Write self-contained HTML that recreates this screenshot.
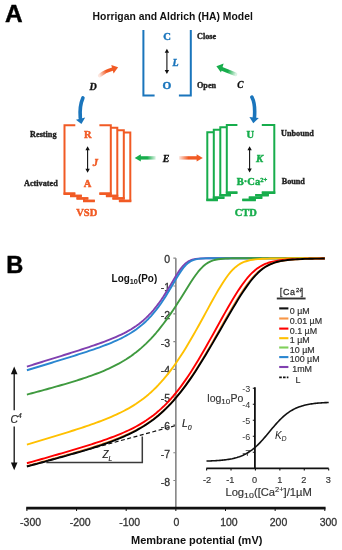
<!DOCTYPE html>
<html><head><meta charset="utf-8"><title>HA model</title>
<style>html,body{margin:0;padding:0;background:#fff;width:342px;height:550px;overflow:hidden}svg{display:block}</style>
</head><body>
<svg width="342" height="550" viewBox="0 0 342 550">
<style>.s{font-family:"Liberation Sans",Arial,sans-serif}.r{font-family:"Liberation Serif","Times New Roman",serif}</style>
<defs><linearGradient id="gD" gradientUnits="userSpaceOnUse" x1="99.4" y1="75.5" x2="118" y2="67"><stop offset="0" stop-color="#f15a24" stop-opacity="0.15"/><stop offset="0.4" stop-color="#f15a24" stop-opacity="1"/></linearGradient><linearGradient id="gC" gradientUnits="userSpaceOnUse" x1="235.7" y1="74.3" x2="216.4" y2="66.3"><stop offset="0" stop-color="#17ad4c" stop-opacity="0.15"/><stop offset="0.4" stop-color="#17ad4c" stop-opacity="1"/></linearGradient><linearGradient id="gEg" gradientUnits="userSpaceOnUse" x1="155.7" y1="157.9" x2="134.7" y2="157.9"><stop offset="0" stop-color="#17ad4c" stop-opacity="0.15"/><stop offset="0.4" stop-color="#17ad4c" stop-opacity="1"/></linearGradient><linearGradient id="gEo" gradientUnits="userSpaceOnUse" x1="179.1" y1="157.9" x2="202.5" y2="157.9"><stop offset="0" stop-color="#f15a24" stop-opacity="0.15"/><stop offset="0.4" stop-color="#f15a24" stop-opacity="1"/></linearGradient></defs>
<rect width="342" height="550" fill="#fff"/>
<text x="4.9" y="21.8" class="s" font-weight="bold" font-size="24.4" stroke="#000" stroke-width="0.45">A</text>
<text x="92.6" y="19.6" class="s" font-weight="bold" font-size="10.5" fill="#111" textLength="160.2" lengthAdjust="spacingAndGlyphs">Horrigan and Aldrich (HA) Model</text>
<rect x="84.00" y="132.56" width="46.30" height="68.10" fill="#fff"/>
<path d="M94.80,132.56 H84.00 V200.66 H94.80 M118.90,132.56 H130.30 V200.66 H118.90" fill="none" stroke="#f15a24" stroke-width="2.0" stroke-linejoin="miter" stroke-linecap="butt"/>
<path d="M83.00,200.91 H94.80 M118.90,200.91 H131.30" fill="none" stroke="#f15a24" stroke-width="2.5"/>
<rect x="77.50" y="130.14" width="46.30" height="68.10" fill="#fff"/>
<path d="M88.30,130.14 H77.50 V198.24 H88.30 M112.40,130.14 H123.80 V198.24 H112.40" fill="none" stroke="#f15a24" stroke-width="2.0" stroke-linejoin="miter" stroke-linecap="butt"/>
<path d="M76.50,198.49 H88.30 M112.40,198.49 H124.80" fill="none" stroke="#f15a24" stroke-width="2.5"/>
<rect x="71.00" y="127.72" width="46.30" height="68.10" fill="#fff"/>
<path d="M81.80,127.72 H71.00 V195.82 H81.80 M105.90,127.72 H117.30 V195.82 H105.90" fill="none" stroke="#f15a24" stroke-width="2.0" stroke-linejoin="miter" stroke-linecap="butt"/>
<path d="M70.00,196.07 H81.80 M105.90,196.07 H118.30" fill="none" stroke="#f15a24" stroke-width="2.5"/>
<rect x="64.50" y="125.30" width="46.30" height="68.10" fill="#fff"/>
<path d="M75.30,125.30 H64.50 V193.40 H75.30 M99.40,125.30 H110.80 V193.40 H99.40" fill="none" stroke="#f15a24" stroke-width="2.0" stroke-linejoin="miter" stroke-linecap="butt"/>
<path d="M63.50,193.65 H75.30 M99.40,193.65 H111.80" fill="none" stroke="#f15a24" stroke-width="2.5"/>
<rect x="207.30" y="132.16" width="47.50" height="67.70" fill="#fff"/>
<path d="M217.90,132.16 H207.30 V199.86 H217.90 M242.30,132.16 H254.80 V199.86 H242.30" fill="none" stroke="#17ad4c" stroke-width="2.0" stroke-linejoin="miter" stroke-linecap="butt"/>
<path d="M206.30,200.11 H217.90 M242.30,200.11 H255.80" fill="none" stroke="#17ad4c" stroke-width="2.5"/>
<rect x="213.80" y="129.74" width="47.50" height="67.70" fill="#fff"/>
<path d="M224.40,129.74 H213.80 V197.44 H224.40 M248.80,129.74 H261.30 V197.44 H248.80" fill="none" stroke="#17ad4c" stroke-width="2.0" stroke-linejoin="miter" stroke-linecap="butt"/>
<path d="M212.80,197.69 H224.40 M248.80,197.69 H262.30" fill="none" stroke="#17ad4c" stroke-width="2.5"/>
<rect x="220.30" y="127.32" width="47.50" height="67.70" fill="#fff"/>
<path d="M230.90,127.32 H220.30 V195.02 H230.90 M255.30,127.32 H267.80 V195.02 H255.30" fill="none" stroke="#17ad4c" stroke-width="2.0" stroke-linejoin="miter" stroke-linecap="butt"/>
<path d="M219.30,195.27 H230.90 M255.30,195.27 H268.80" fill="none" stroke="#17ad4c" stroke-width="2.5"/>
<rect x="226.80" y="124.90" width="47.50" height="67.70" fill="#fff"/>
<path d="M237.40,124.90 H226.80 V192.60 H237.40 M261.80,124.90 H274.30 V192.60 H261.80" fill="none" stroke="#17ad4c" stroke-width="2.0" stroke-linejoin="miter" stroke-linecap="butt"/>
<path d="M225.80,192.85 H237.40 M261.80,192.85 H275.30" fill="none" stroke="#17ad4c" stroke-width="2.5"/>
<path d="M154.6,95.5 H143.4 V30 M178.9,95.5 H190.8 V30" fill="none" stroke="#1a75bc" stroke-width="2"/>
<text x="167.1" y="40.2" text-anchor="middle" class="r" font-weight="bold" font-size="10.6" fill="#1a75bc" stroke="#1a75bc" stroke-width="0.45">C</text>
<text x="166.9" y="89.2" text-anchor="middle" class="r" font-weight="bold" font-size="11.3" fill="#1a75bc" stroke="#1a75bc" stroke-width="0.45">O</text>
<text x="172.5" y="65.5" class="r" font-weight="bold" font-style="italic" font-size="10" fill="#1a75bc" stroke="#1a75bc" stroke-width="0.45">L</text>
<text x="197" y="38.7" class="r" font-weight="bold" font-size="8.2" fill="#222" stroke="#222" stroke-width="0.35">Close</text>
<text x="197" y="87.8" class="r" font-weight="bold" font-size="8.2" fill="#222" stroke="#222" stroke-width="0.35">Open</text>
<path d="M166.9,52.2 V70.6" stroke="#111" stroke-width="1.1"/><path d="M166.9,48.7 L164.70000000000002,52.7 L169.1,52.7 Z M166.9,74.1 L164.70000000000002,70.1 L169.1,70.1 Z" fill="#111"/>
<path d="M87.6,149.7 V169.3" stroke="#111" stroke-width="1.1"/><path d="M87.6,146.2 L85.39999999999999,150.2 L89.8,150.2 Z M87.6,172.8 L85.39999999999999,168.8 L89.8,168.8 Z" fill="#111"/>
<path d="M249.6,149.8 V169.1" stroke="#111" stroke-width="1.1"/><path d="M249.6,146.3 L247.4,150.3 L251.79999999999998,150.3 Z M249.6,172.6 L247.4,168.6 L251.79999999999998,168.6 Z" fill="#111"/>
<text x="87.7" y="138.1" text-anchor="middle" class="r" font-weight="bold" font-size="10.5" fill="#f15a24" stroke="#f15a24" stroke-width="0.45">R</text>
<text x="87.6" y="187.1" text-anchor="middle" class="r" font-weight="bold" font-size="10.5" fill="#f15a24" stroke="#f15a24" stroke-width="0.45">A</text>
<text x="92.8" y="166" class="r" font-weight="bold" font-style="italic" font-size="10.5" fill="#f15a24" stroke="#f15a24" stroke-width="0.45">J</text>
<text x="86.8" y="215.5" text-anchor="middle" class="r" font-weight="bold" font-size="10.5" fill="#f15a24" stroke="#f15a24" stroke-width="0.45">VSD</text>
<text x="56.5" y="136.7" text-anchor="end" class="r" font-weight="bold" font-size="8.2" fill="#222" stroke="#222" stroke-width="0.35">Resting</text>
<text x="57.7" y="186.3" text-anchor="end" class="r" font-weight="bold" font-size="8.2" fill="#222" stroke="#222" stroke-width="0.35">Activated</text>
<text x="250.2" y="138.3" text-anchor="middle" class="r" font-weight="bold" font-size="10.5" fill="#17ad4c" stroke="#17ad4c" stroke-width="0.45">U</text>
<text x="255.9" y="161.7" class="r" font-weight="bold" font-style="italic" font-size="10.3" fill="#17ad4c" stroke="#17ad4c" stroke-width="0.45" textLength="7.2" lengthAdjust="spacingAndGlyphs">K</text>
<text x="236.8" y="185" class="r" font-weight="bold" font-size="10.5" fill="#17ad4c" stroke="#17ad4c" stroke-width="0.45">B·Ca<tspan font-size="6.5" dy="-3.5">2+</tspan></text>
<text x="245.8" y="215.8" text-anchor="middle" class="r" font-weight="bold" font-size="10.5" fill="#17ad4c" stroke="#17ad4c" stroke-width="0.45">CTD</text>
<text x="281.1" y="136.1" class="r" font-weight="bold" font-size="8.2" fill="#222" stroke="#222" stroke-width="0.35">Unbound</text>
<text x="281.7" y="183.5" class="r" font-weight="bold" font-size="8.2" fill="#222" stroke="#222" stroke-width="0.35">Bound</text>
<text x="89.4" y="90" class="r" font-weight="bold" font-style="italic" font-size="10" fill="#111" stroke="#111" stroke-width="0.35">D</text>
<text x="237.3" y="88.3" class="r" font-weight="bold" font-style="italic" font-size="10.3" fill="#111" stroke="#111" stroke-width="0.35" textLength="6.2" lengthAdjust="spacingAndGlyphs">C</text>
<text x="162.8" y="162.4" class="r" font-weight="bold" font-style="italic" font-size="10" fill="#111" stroke="#111" stroke-width="0.35">E</text>
<path d="M99.6,75.6 Q105,71 112.5,69.2" fill="none" stroke="url(#gD)" stroke-width="3.4" stroke-linecap="round"/>
<path d="M118.1,67.3 L111.3,65.0 L113.6,73.4 Z" fill="#f15a24"/>
<path d="M235.4,74.3 L221,68.4" fill="none" stroke="url(#gC)" stroke-width="3.8" stroke-linecap="round"/>
<path d="M216.4,66.3 L223.6,63.6 L221.0,72.6 Z" fill="#17ad4c"/>
<path d="M155.7,157.9 H140" fill="none" stroke="url(#gEg)" stroke-width="3.4"/>
<path d="M134.7,157.9 L140.8,154.2 L140.8,161.6 Z" fill="#17ad4c"/>
<path d="M179.1,157.9 H197" fill="none" stroke="url(#gEo)" stroke-width="3.4"/>
<path d="M202.8,157.9 L196.6,154.2 L196.6,161.6 Z" fill="#f15a24"/>
<path d="M82.9,97.9 Q79.3,106 80.3,118" fill="none" stroke="#1a75bc" stroke-width="3.6" stroke-linecap="round"/>
<path d="M81.4,123.9 L75.9,119.8 L85.2,117.4 Z" fill="#1a75bc"/>
<path d="M251.9,97.2 Q255.6,104 254.4,118" fill="none" stroke="#1a75bc" stroke-width="3.6" stroke-linecap="round"/>
<path d="M253.3,123.2 L249.4,116.9 L258.8,118.0 Z" fill="#1a75bc"/>
<text x="6.2" y="273.2" class="s" font-weight="bold" font-size="23.6" stroke="#000" stroke-width="0.45">B</text>
<path d="M175.85,258.2 V508.4" stroke="#858585" stroke-width="1.6"/>
<path d="M173.35,258.20 H175.85M173.35,285.99 H175.85M173.35,313.78 H175.85M173.35,341.57 H175.85M173.35,369.36 H175.85M173.35,397.15 H175.85M173.35,424.94 H175.85M173.35,452.73 H175.85M173.35,480.52 H175.85" stroke="#858585" stroke-width="1.2"/>
<text x="170.2" y="263.30" text-anchor="end" class="s" font-size="10.5" fill="#333" stroke="#333" stroke-width="0.3">0</text>
<text x="170.2" y="291.09" text-anchor="end" class="s" font-size="10.5" fill="#333" stroke="#333" stroke-width="0.3">-1</text>
<text x="170.2" y="318.88" text-anchor="end" class="s" font-size="10.5" fill="#333" stroke="#333" stroke-width="0.3">-2</text>
<text x="170.2" y="346.67" text-anchor="end" class="s" font-size="10.5" fill="#333" stroke="#333" stroke-width="0.3">-3</text>
<text x="170.2" y="374.46" text-anchor="end" class="s" font-size="10.5" fill="#333" stroke="#333" stroke-width="0.3">-4</text>
<text x="170.2" y="402.25" text-anchor="end" class="s" font-size="10.5" fill="#333" stroke="#333" stroke-width="0.3">-5</text>
<text x="170.2" y="430.04" text-anchor="end" class="s" font-size="10.5" fill="#333" stroke="#333" stroke-width="0.3">-6</text>
<text x="170.2" y="457.83" text-anchor="end" class="s" font-size="10.5" fill="#333" stroke="#333" stroke-width="0.3">-7</text>
<text x="170.2" y="485.62" text-anchor="end" class="s" font-size="10.5" fill="#333" stroke="#333" stroke-width="0.3">-8</text>
<path d="M26.90,366.57 L29.38,365.81 L31.87,365.04 L34.35,364.28 L36.83,363.51 L39.31,362.74 L41.79,361.98 L44.28,361.21 L46.76,360.44 L49.24,359.67 L51.72,358.90 L54.21,358.13 L56.69,357.36 L59.17,356.58 L61.66,355.81 L64.14,355.03 L66.62,354.25 L69.10,353.47 L71.58,352.68 L74.07,351.89 L76.55,351.10 L79.03,350.30 L81.52,349.50 L84.00,348.69 L86.48,347.88 L88.96,347.05 L91.44,346.22 L93.93,345.37 L96.41,344.51 L98.89,343.64 L101.38,342.75 L103.86,341.84 L106.34,340.90 L108.82,339.94 L111.30,338.95 L113.79,337.92 L116.27,336.86 L118.75,335.74 L121.23,334.58 L123.72,333.35 L126.20,332.05 L128.68,330.68 L131.16,329.22 L133.65,327.65 L136.13,325.98 L138.61,324.18 L141.09,322.24 L143.58,320.16 L146.06,317.90 L148.54,315.47 L151.03,312.84 L153.51,310.01 L155.99,306.96 L158.47,303.70 L160.95,300.22 L163.44,296.52 L165.92,292.63 L168.40,288.57 L170.88,284.40 L173.37,280.20 L175.85,276.07 L178.33,272.16 L180.81,268.63 L183.30,265.63 L185.78,263.24 L188.26,261.47 L190.75,260.24 L193.23,259.44 L195.71,258.94 L198.19,258.63 L200.67,258.45 L203.16,258.34 L205.64,258.28 L208.12,258.25 L210.60,258.23 L213.09,258.21 L215.57,258.21 L218.05,258.20 L220.53,258.20 L223.02,258.20 L225.50,258.20 L227.98,258.20 L230.47,258.20 L232.95,258.20 L235.43,258.20 L237.91,258.20 L240.39,258.20 L242.88,258.20 L245.36,258.20 L247.84,258.20 L250.32,258.20 L252.81,258.20 L255.29,258.20 L257.77,258.20 L260.25,258.20 L262.74,258.20 L265.22,258.20 L267.70,258.20 L270.19,258.20 L272.67,258.20 L275.15,258.20 L277.63,258.20 L280.12,258.20 L282.60,258.20 L285.08,258.20 L287.56,258.20 L290.04,258.20 L292.53,258.20 L295.01,258.20 L297.49,258.20 L299.98,258.20 L302.46,258.20 L304.94,258.20 L307.42,258.20 L309.90,258.20 L312.39,258.20 L314.87,258.20 L317.35,258.20 L319.83,258.20 L322.32,258.20 L324.80,258.20" fill="none" stroke="#8040b0" stroke-width="1.9" stroke-linejoin="round"/>
<path d="M26.90,370.28 L29.38,369.52 L31.87,368.77 L34.35,368.02 L36.83,367.26 L39.31,366.51 L41.79,365.75 L44.28,365.00 L46.76,364.24 L49.24,363.48 L51.72,362.72 L54.21,361.96 L56.69,361.20 L59.17,360.43 L61.66,359.67 L64.14,358.90 L66.62,358.13 L69.10,357.35 L71.58,356.57 L74.07,355.79 L76.55,355.01 L79.03,354.21 L81.52,353.41 L84.00,352.61 L86.48,351.79 L88.96,350.97 L91.44,350.13 L93.93,349.28 L96.41,348.42 L98.89,347.54 L101.38,346.64 L103.86,345.71 L106.34,344.76 L108.82,343.79 L111.30,342.77 L113.79,341.72 L116.27,340.63 L118.75,339.49 L121.23,338.29 L123.72,337.02 L126.20,335.69 L128.68,334.27 L131.16,332.76 L133.65,331.15 L136.13,329.43 L138.61,327.59 L141.09,325.61 L143.58,323.48 L146.06,321.18 L148.54,318.71 L151.03,316.06 L153.51,313.21 L155.99,310.16 L158.47,306.90 L160.95,303.44 L163.44,299.76 L165.92,295.90 L168.40,291.87 L170.88,287.71 L173.37,283.48 L175.85,279.26 L178.33,275.17 L180.81,271.36 L183.30,267.97 L185.78,265.13 L188.26,262.90 L190.75,261.26 L193.23,260.13 L195.71,259.39 L198.19,258.91 L200.67,258.62 L203.16,258.45 L205.64,258.35 L208.12,258.29 L210.60,258.25 L213.09,258.23 L215.57,258.22 L218.05,258.21 L220.53,258.21 L223.02,258.20 L225.50,258.20 L227.98,258.20 L230.47,258.20 L232.95,258.20 L235.43,258.20 L237.91,258.20 L240.39,258.20 L242.88,258.20 L245.36,258.20 L247.84,258.20 L250.32,258.20 L252.81,258.20 L255.29,258.20 L257.77,258.20 L260.25,258.20 L262.74,258.20 L265.22,258.20 L267.70,258.20 L270.19,258.20 L272.67,258.20 L275.15,258.20 L277.63,258.20 L280.12,258.20 L282.60,258.20 L285.08,258.20 L287.56,258.20 L290.04,258.20 L292.53,258.20 L295.01,258.20 L297.49,258.20 L299.98,258.20 L302.46,258.20 L304.94,258.20 L307.42,258.20 L309.90,258.20 L312.39,258.20 L314.87,258.20 L317.35,258.20 L319.83,258.20 L322.32,258.20 L324.80,258.20" fill="none" stroke="#2a86d0" stroke-width="1.9" stroke-linejoin="round"/>
<path d="M26.90,394.59 L29.38,393.92 L31.87,393.26 L34.35,392.59 L36.83,391.92 L39.31,391.25 L41.79,390.58 L44.28,389.90 L46.76,389.22 L49.24,388.53 L51.72,387.84 L54.21,387.15 L56.69,386.45 L59.17,385.74 L61.66,385.03 L64.14,384.31 L66.62,383.58 L69.10,382.84 L71.58,382.09 L74.07,381.33 L76.55,380.56 L79.03,379.78 L81.52,378.98 L84.00,378.16 L86.48,377.32 L88.96,376.47 L91.44,375.59 L93.93,374.69 L96.41,373.76 L98.89,372.80 L101.38,371.80 L103.86,370.77 L106.34,369.70 L108.82,368.59 L111.30,367.43 L113.79,366.22 L116.27,364.95 L118.75,363.63 L121.23,362.23 L123.72,360.77 L126.20,359.23 L128.68,357.61 L131.16,355.91 L133.65,354.11 L136.13,352.22 L138.61,350.22 L141.09,348.12 L143.58,345.90 L146.06,343.57 L148.54,341.11 L151.03,338.54 L153.51,335.84 L155.99,333.01 L158.47,330.05 L160.95,326.96 L163.44,323.75 L165.92,320.41 L168.40,316.96 L170.88,313.38 L173.37,309.70 L175.85,305.93 L178.33,302.07 L180.81,298.14 L183.30,294.16 L185.78,290.17 L188.26,286.21 L190.75,282.32 L193.23,278.56 L195.71,275.00 L198.19,271.73 L200.67,268.81 L203.16,266.31 L205.64,264.24 L208.12,262.60 L210.60,261.35 L213.09,260.42 L215.57,259.74 L218.05,259.27 L220.53,258.94 L223.02,258.71 L225.50,258.55 L227.98,258.44 L230.47,258.37 L232.95,258.32 L235.43,258.28 L237.91,258.26 L240.39,258.24 L242.88,258.23 L245.36,258.22 L247.84,258.22 L250.32,258.21 L252.81,258.21 L255.29,258.21 L257.77,258.20 L260.25,258.20 L262.74,258.20 L265.22,258.20 L267.70,258.20 L270.19,258.20 L272.67,258.20 L275.15,258.20 L277.63,258.20 L280.12,258.20 L282.60,258.20 L285.08,258.20 L287.56,258.20 L290.04,258.20 L292.53,258.20 L295.01,258.20 L297.49,258.20 L299.98,258.20 L302.46,258.20 L304.94,258.20 L307.42,258.20 L309.90,258.20 L312.39,258.20 L314.87,258.20 L317.35,258.20 L319.83,258.20 L322.32,258.20 L324.80,258.20" fill="none" stroke="#3f9a3f" stroke-width="1.9" stroke-linejoin="round"/>
<path d="M26.90,444.59 L29.38,443.85 L31.87,443.11 L34.35,442.37 L36.83,441.63 L39.31,440.89 L41.79,440.15 L44.28,439.40 L46.76,438.66 L49.24,437.91 L51.72,437.16 L54.21,436.40 L56.69,435.65 L59.17,434.89 L61.66,434.12 L64.14,433.35 L66.62,432.58 L69.10,431.80 L71.58,431.02 L74.07,430.23 L76.55,429.43 L79.03,428.62 L81.52,427.81 L84.00,426.99 L86.48,426.15 L88.96,425.30 L91.44,424.44 L93.93,423.56 L96.41,422.67 L98.89,421.75 L101.38,420.82 L103.86,419.86 L106.34,418.88 L108.82,417.86 L111.30,416.82 L113.79,415.74 L116.27,414.62 L118.75,413.46 L121.23,412.25 L123.72,410.99 L126.20,409.68 L128.68,408.30 L131.16,406.86 L133.65,405.34 L136.13,403.75 L138.61,402.07 L141.09,400.31 L143.58,398.45 L146.06,396.48 L148.54,394.41 L151.03,392.22 L153.51,389.91 L155.99,387.48 L158.47,384.92 L160.95,382.23 L163.44,379.40 L165.92,376.44 L168.40,373.33 L170.88,370.09 L173.37,366.71 L175.85,363.20 L178.33,359.55 L180.81,355.78 L183.30,351.89 L185.78,347.88 L188.26,343.77 L190.75,339.56 L193.23,335.27 L195.71,330.89 L198.19,326.46 L200.67,321.97 L203.16,317.44 L205.64,312.90 L208.12,308.34 L210.60,303.81 L213.09,299.32 L215.57,294.90 L218.05,290.58 L220.53,286.41 L223.02,282.42 L225.50,278.69 L227.98,275.25 L230.47,272.16 L232.95,269.45 L235.43,267.14 L237.91,265.22 L240.39,263.66 L242.88,262.43 L245.36,261.47 L247.84,260.73 L250.32,260.16 L252.81,259.73 L255.29,259.40 L257.77,259.15 L260.25,258.96 L262.74,258.82 L265.22,258.70 L267.70,258.61 L270.19,258.54 L272.67,258.49 L275.15,258.44 L277.63,258.41 L280.12,258.38 L282.60,258.35 L285.08,258.33 L287.56,258.32 L290.04,258.30 L292.53,258.29 L295.01,258.28 L297.49,258.27 L299.98,258.27 L302.46,258.26 L304.94,258.26 L307.42,258.25 L309.90,258.25 L312.39,258.24 L314.87,258.24 L317.35,258.24 L319.83,258.23 L322.32,258.23 L324.80,258.23" fill="none" stroke="#ffc000" stroke-width="1.9" stroke-linejoin="round"/>
<path d="M26.90,463.24 L29.38,462.53 L31.87,461.83 L34.35,461.13 L36.83,460.42 L39.31,459.72 L41.79,459.01 L44.28,458.30 L46.76,457.59 L49.24,456.88 L51.72,456.17 L54.21,455.46 L56.69,454.74 L59.17,454.02 L61.66,453.30 L64.14,452.58 L66.62,451.85 L69.10,451.12 L71.58,450.39 L74.07,449.65 L76.55,448.90 L79.03,448.15 L81.52,447.40 L84.00,446.64 L86.48,445.87 L88.96,445.09 L91.44,444.30 L93.93,443.50 L96.41,442.69 L98.89,441.87 L101.38,441.03 L103.86,440.18 L106.34,439.31 L108.82,438.41 L111.30,437.50 L113.79,436.56 L116.27,435.59 L118.75,434.59 L121.23,433.56 L123.72,432.50 L126.20,431.39 L128.68,430.24 L131.16,429.03 L133.65,427.78 L136.13,426.47 L138.61,425.09 L141.09,423.64 L143.58,422.12 L146.06,420.52 L148.54,418.83 L151.03,417.05 L153.51,415.17 L155.99,413.19 L158.47,411.09 L160.95,408.88 L163.44,406.55 L165.92,404.09 L168.40,401.51 L170.88,398.79 L173.37,395.93 L175.85,392.94 L178.33,389.81 L180.81,386.55 L183.30,383.15 L185.78,379.63 L188.26,375.97 L190.75,372.20 L193.23,368.31 L195.71,364.32 L198.19,360.22 L200.67,356.04 L203.16,351.78 L205.64,347.45 L208.12,343.07 L210.60,338.64 L213.09,334.18 L215.57,329.70 L218.05,325.22 L220.53,320.74 L223.02,316.29 L225.50,311.88 L227.98,307.52 L230.47,303.25 L232.95,299.07 L235.43,295.01 L237.91,291.09 L240.39,287.35 L242.88,283.81 L245.36,280.50 L247.84,277.44 L250.32,274.66 L252.81,272.17 L255.29,269.98 L257.77,268.09 L260.25,266.47 L262.74,265.10 L265.22,263.96 L267.70,263.02 L270.19,262.24 L272.67,261.60 L275.15,261.08 L277.63,260.65 L280.12,260.30 L282.60,260.01 L285.08,259.77 L287.56,259.57 L290.04,259.40 L292.53,259.26 L295.01,259.15 L297.49,259.04 L299.98,258.96 L302.46,258.88 L304.94,258.82 L307.42,258.76 L309.90,258.71 L312.39,258.67 L314.87,258.63 L317.35,258.60 L319.83,258.57 L322.32,258.54 L324.80,258.51" fill="none" stroke="#ff0000" stroke-width="1.9" stroke-linejoin="round"/>
<path d="M26.90,466.10 L29.38,465.42 L31.87,464.73 L34.35,464.04 L36.83,463.36 L39.31,462.67 L41.79,461.98 L44.28,461.29 L46.76,460.59 L49.24,459.90 L51.72,459.21 L54.21,458.51 L56.69,457.81 L59.17,457.11 L61.66,456.40 L64.14,455.69 L66.62,454.98 L69.10,454.27 L71.58,453.55 L74.07,452.82 L76.55,452.10 L79.03,451.36 L81.52,450.62 L84.00,449.87 L86.48,449.12 L88.96,448.35 L91.44,447.58 L93.93,446.79 L96.41,445.99 L98.89,445.18 L101.38,444.36 L103.86,443.52 L106.34,442.66 L108.82,441.78 L111.30,440.88 L113.79,439.95 L116.27,439.00 L118.75,438.01 L121.23,437.00 L123.72,435.95 L126.20,434.86 L128.68,433.72 L131.16,432.54 L133.65,431.31 L136.13,430.02 L138.61,428.67 L141.09,427.25 L143.58,425.77 L146.06,424.21 L148.54,422.56 L151.03,420.83 L153.51,419.01 L155.99,417.08 L158.47,415.06 L160.95,412.92 L163.44,410.68 L165.92,408.31 L168.40,405.82 L170.88,403.21 L173.37,400.47 L175.85,397.60 L178.33,394.61 L180.81,391.48 L183.30,388.23 L185.78,384.85 L188.26,381.36 L190.75,377.74 L193.23,374.01 L195.71,370.18 L198.19,366.25 L200.67,362.23 L203.16,358.13 L205.64,353.95 L208.12,349.72 L210.60,345.43 L213.09,341.10 L215.57,336.73 L218.05,332.35 L220.53,327.97 L223.02,323.58 L225.50,319.22 L227.98,314.89 L230.47,310.61 L232.95,306.39 L235.43,302.25 L237.91,298.22 L240.39,294.30 L242.88,290.53 L245.36,286.93 L247.84,283.52 L250.32,280.33 L252.81,277.39 L255.29,274.70 L257.77,272.29 L260.25,270.16 L262.74,268.31 L265.22,266.71 L267.70,265.35 L270.19,264.21 L272.67,263.26 L275.15,262.47 L277.63,261.82 L280.12,261.28 L282.60,260.83 L285.08,260.46 L287.56,260.16 L290.04,259.90 L292.53,259.69 L295.01,259.51 L297.49,259.36 L299.98,259.23 L302.46,259.12 L304.94,259.03 L307.42,258.95 L309.90,258.88 L312.39,258.82 L314.87,258.76 L317.35,258.72 L319.83,258.67 L322.32,258.64 L324.80,258.60" fill="none" stroke="#f79646" stroke-width="1.9" stroke-linejoin="round"/>
<path d="M26.90,466.50 L29.38,465.83 L31.87,465.16 L34.35,464.49 L36.83,463.82 L39.31,463.15 L41.79,462.47 L44.28,461.80 L46.76,461.12 L49.24,460.44 L51.72,459.76 L54.21,459.08 L56.69,458.39 L59.17,457.70 L61.66,457.01 L64.14,456.32 L66.62,455.62 L69.10,454.91 L71.58,454.20 L74.07,453.49 L76.55,452.77 L79.03,452.05 L81.52,451.31 L84.00,450.57 L86.48,449.82 L88.96,449.06 L91.44,448.29 L93.93,447.51 L96.41,446.72 L98.89,445.91 L101.38,445.08 L103.86,444.24 L106.34,443.37 L108.82,442.49 L111.30,441.58 L113.79,440.65 L116.27,439.68 L118.75,438.69 L121.23,437.66 L123.72,436.59 L126.20,435.49 L128.68,434.33 L131.16,433.13 L133.65,431.88 L136.13,430.57 L138.61,429.20 L141.09,427.76 L143.58,426.25 L146.06,424.66 L148.54,422.99 L151.03,421.24 L153.51,419.39 L155.99,417.45 L158.47,415.41 L160.95,413.26 L163.44,411.00 L165.92,408.63 L168.40,406.14 L170.88,403.53 L173.37,400.81 L175.85,397.96 L178.33,394.98 L180.81,391.89 L183.30,388.68 L185.78,385.34 L188.26,381.90 L190.75,378.34 L193.23,374.68 L195.71,370.91 L198.19,367.06 L200.67,363.11 L203.16,359.09 L205.64,355.00 L208.12,350.84 L210.60,346.63 L213.09,342.38 L215.57,338.09 L218.05,333.78 L220.53,329.45 L223.02,325.13 L225.50,320.81 L227.98,316.51 L230.47,312.25 L232.95,308.04 L235.43,303.90 L237.91,299.83 L240.39,295.87 L242.88,292.04 L245.36,288.35 L247.84,284.83 L250.32,281.52 L252.81,278.43 L255.29,275.60 L257.77,273.04 L260.25,270.75 L262.74,268.75 L265.22,267.03 L267.70,265.56 L270.19,264.33 L272.67,263.30 L275.15,262.45 L277.63,261.76 L280.12,261.19 L282.60,260.72 L285.08,260.34 L287.56,260.02 L290.04,259.76 L292.53,259.55 L295.01,259.37 L297.49,259.23 L299.98,259.10 L302.46,259.00 L304.94,258.91 L307.42,258.84 L309.90,258.77 L312.39,258.71 L314.87,258.67 L317.35,258.62 L319.83,258.59 L322.32,258.55 L324.80,258.53" fill="none" stroke="#000000" stroke-width="1.9" stroke-linejoin="round"/>
<path d="M26.90,466.25 L175.85,425.52" fill="none" stroke="#111" stroke-width="1.2" stroke-dasharray="4,2.5"/>
<path d="M26.2,508.1 H325.6" stroke="#111" stroke-width="2.6"/>
<path d="M26.90,508.4 V511M76.55,508.4 V511M126.20,508.4 V511M175.85,508.4 V511M225.50,508.4 V511M275.15,508.4 V511M324.80,508.4 V511" stroke="#111" stroke-width="1"/>
<text x="30.6" y="526.3" text-anchor="middle" class="s" font-size="10.5" fill="#333" stroke="#333" stroke-width="0.3">-300</text>
<text x="80.2" y="526.3" text-anchor="middle" class="s" font-size="10.5" fill="#333" stroke="#333" stroke-width="0.3">-200</text>
<text x="129.7" y="526.3" text-anchor="middle" class="s" font-size="10.5" fill="#333" stroke="#333" stroke-width="0.3">-100</text>
<text x="176.5" y="526.3" text-anchor="middle" class="s" font-size="10.5" fill="#333" stroke="#333" stroke-width="0.3">0</text>
<text x="228.9" y="526.3" text-anchor="middle" class="s" font-size="10.5" fill="#333" stroke="#333" stroke-width="0.3">100</text>
<text x="278.5" y="526.3" text-anchor="middle" class="s" font-size="10.5" fill="#333" stroke="#333" stroke-width="0.3">200</text>
<text x="328.4" y="526.3" text-anchor="middle" class="s" font-size="10.5" fill="#333" stroke="#333" stroke-width="0.3">300</text>
<text x="131" y="543.9" class="s" font-weight="bold" font-size="11" fill="#111">Membrane potential (mV)</text>
<text x="111.6" y="281.7" class="s" font-weight="bold" font-size="10.8" fill="#111" textLength="45.6" lengthAdjust="spacingAndGlyphs">Log<tspan font-size="8" dy="2.5">10</tspan><tspan dy="-2.5">(Po)</tspan></text>
<text x="279.8" y="295.4" class="s" font-size="8.9" fill="#333" stroke="#333" stroke-width="0.3"><tspan textLength="15.2" lengthAdjust="spacing">[Ca</tspan><tspan x="296.1" font-size="6" dy="-3.4">2</tspan><tspan x="299.2" font-size="5">+</tspan><tspan x="300.8" dy="3.4">]</tspan></text>
<path d="M276.8,298.5 H305.6" stroke="#333" stroke-width="1.9"/>
<path d="M279.2,308.4 H288.4" stroke="#111" stroke-width="2.1"/>
<text x="289.8" y="313.6" class="s" font-size="8.9" fill="#333" stroke="#333" stroke-width="0.2" xml:space="preserve">0 µM</text>
<path d="M279.2,318.5 H288.4" stroke="#f79646" stroke-width="2.1"/>
<text x="289.8" y="323.7" class="s" font-size="8.9" fill="#333" stroke="#333" stroke-width="0.2" xml:space="preserve">0.01 µM</text>
<path d="M279.2,328.6 H288.4" stroke="#ff0000" stroke-width="2.1"/>
<text x="289.8" y="333.8" class="s" font-size="8.9" fill="#333" stroke="#333" stroke-width="0.2" xml:space="preserve">0.1 µM</text>
<path d="M279.2,338.2 H288.4" stroke="#ffc000" stroke-width="2.1"/>
<text x="289.8" y="343.4" class="s" font-size="8.9" fill="#333" stroke="#333" stroke-width="0.2" xml:space="preserve">1 µM</text>
<path d="M279.2,347.5 H288.4" stroke="#80cf5a" stroke-width="2.1"/>
<text x="289.8" y="352.7" class="s" font-size="8.9" fill="#333" stroke="#333" stroke-width="0.2" xml:space="preserve">10 µM</text>
<path d="M279.2,357.1 H288.4" stroke="#2a86d0" stroke-width="2.1"/>
<text x="289.8" y="362.3" class="s" font-size="8.9" fill="#333" stroke="#333" stroke-width="0.2" xml:space="preserve">100 µM</text>
<path d="M279.2,367.0 H288.4" stroke="#8040b0" stroke-width="2.1"/>
<text x="289.8" y="372.2" class="s" font-size="8.9" fill="#333" stroke="#333" stroke-width="0.2" xml:space="preserve"> 1mM</text>
<path d="M279.2,377.3 H288.4" stroke="#111" stroke-width="1.8" stroke-dasharray="2.6,1.2"/>
<text x="295.5" y="382.5" class="s" font-size="8.9" fill="#333" stroke="#333" stroke-width="0.2">L</text>
<path d="M14.2,373 V410.2 M14.2,426.5 V463" stroke="#111" stroke-width="1.3"/>
<path d="M14.2,366.5 L10.9,374.2 L17.5,374.2 Z M14.2,470.2 L10.9,462.6 L17.5,462.6 Z" fill="#111"/>
<text x="10.4" y="422.8" class="s" font-style="italic" font-size="10.4" fill="#222" stroke="#222" stroke-width="0.2">C<tspan font-size="6.6" dy="-4.6">4</tspan></text>
<path d="M46.3,462.6 H142.3 V436.5" fill="none" stroke="#3a3a3a" stroke-width="1.5"/>
<text x="102.5" y="458.3" class="s" font-style="italic" font-size="10" fill="#222" stroke="#222" stroke-width="0.15">Z<tspan font-size="6.5" dy="2.5">L</tspan></text>
<text x="182" y="427" class="s" font-style="italic" font-size="10.4" fill="#222" stroke="#222" stroke-width="0.15">L<tspan font-size="7" dy="2.5">0</tspan></text>
<path d="M254.9,387.2 V468.4 M206.3,468.4 H328.7" stroke="#111" stroke-width="1.8" fill="none"/>
<path d="M252.8,388.20 H254.9M252.8,404.23 H254.9M252.8,420.26 H254.9M252.8,436.29 H254.9M252.8,452.32 H254.9M206.60,468.4 V470.6M231.02,468.4 V470.6M255.44,468.4 V470.6M279.86,468.4 V470.6M304.28,468.4 V470.6M328.70,468.4 V470.6" stroke="#111" stroke-width="1.1"/>
<text x="250.3" y="391.50" text-anchor="end" class="s" font-size="9" fill="#333">-3</text>
<text x="250.3" y="407.53" text-anchor="end" class="s" font-size="9" fill="#333">-4</text>
<text x="250.3" y="423.56" text-anchor="end" class="s" font-size="9" fill="#333">-5</text>
<text x="250.3" y="439.59" text-anchor="end" class="s" font-size="9" fill="#333">-6</text>
<text x="250.3" y="455.62" text-anchor="end" class="s" font-size="9" fill="#333">-7</text>
<text x="207.00" y="482.8" text-anchor="middle" class="s" font-size="9.2" fill="#333" stroke="#333" stroke-width="0.15">-2</text>
<text x="230.40" y="482.8" text-anchor="middle" class="s" font-size="9.2" fill="#333" stroke="#333" stroke-width="0.15">-1</text>
<text x="254.60" y="482.8" text-anchor="middle" class="s" font-size="9.2" fill="#333" stroke="#333" stroke-width="0.15">0</text>
<text x="279.90" y="482.8" text-anchor="middle" class="s" font-size="9.2" fill="#333" stroke="#333" stroke-width="0.15">1</text>
<text x="303.80" y="482.8" text-anchor="middle" class="s" font-size="9.2" fill="#333" stroke="#333" stroke-width="0.15">2</text>
<text x="328.20" y="482.8" text-anchor="middle" class="s" font-size="9.2" fill="#333" stroke="#333" stroke-width="0.15">3</text>
<path d="M206.50,461.05 L207.72,461.01 L208.94,460.97 L210.17,460.93 L211.39,460.88 L212.61,460.82 L213.83,460.76 L215.05,460.70 L216.28,460.63 L217.50,460.55 L218.72,460.46 L219.94,460.36 L221.16,460.26 L222.39,460.14 L223.61,460.01 L224.83,459.87 L226.05,459.71 L227.27,459.54 L228.50,459.35 L229.72,459.15 L230.94,458.92 L232.16,458.68 L233.38,458.41 L234.61,458.11 L235.83,457.79 L237.05,457.44 L238.27,457.05 L239.49,456.64 L240.72,456.18 L241.94,455.69 L243.16,455.16 L244.38,454.58 L245.60,453.95 L246.83,453.28 L248.05,452.56 L249.27,451.79 L250.49,450.96 L251.71,450.08 L252.94,449.14 L254.16,448.14 L255.38,447.09 L256.60,445.99 L257.82,444.83 L259.05,443.61 L260.27,442.35 L261.49,441.04 L262.71,439.69 L263.93,438.31 L265.16,436.89 L266.38,435.45 L267.60,433.99 L268.82,432.52 L270.04,431.04 L271.27,429.57 L272.49,428.11 L273.71,426.67 L274.93,425.25 L276.15,423.86 L277.38,422.50 L278.60,421.19 L279.82,419.92 L281.04,418.70 L282.26,417.54 L283.49,416.43 L284.71,415.37 L285.93,414.37 L287.15,413.42 L288.37,412.53 L289.60,411.70 L290.82,410.92 L292.04,410.19 L293.26,409.52 L294.48,408.89 L295.71,408.31 L296.93,407.77 L298.15,407.27 L299.37,406.81 L300.59,406.39 L301.82,406.00 L303.04,405.65 L304.26,405.32 L305.48,405.02 L306.70,404.75 L307.93,404.50 L309.15,404.27 L310.37,404.07 L311.59,403.88 L312.81,403.71 L314.04,403.55 L315.26,403.41 L316.48,403.28 L317.70,403.16 L318.92,403.05 L320.15,402.95 L321.37,402.86 L322.59,402.78 L323.81,402.71 L325.03,402.64 L326.26,402.58 L327.48,402.53 L328.70,402.48" fill="none" stroke="#111" stroke-width="1.6"/>
<text x="207.3" y="401.5" class="s" font-size="10.4" fill="#333" stroke="#333" stroke-width="0.15" textLength="36" lengthAdjust="spacingAndGlyphs">log<tspan font-size="8" dy="2">10</tspan><tspan dy="-2">Po</tspan></text>
<text x="274.9" y="438.7" class="s" font-style="italic" font-size="10" fill="#222">K<tspan font-size="7" dy="2.3">D</tspan></text>
<text x="225.4" y="495.7" class="s" font-size="10.2" fill="#333" stroke="#333" stroke-width="0.15" textLength="86.5" lengthAdjust="spacingAndGlyphs">Log<tspan font-size="8" dy="2">10</tspan><tspan dy="-2">([Ca</tspan><tspan font-size="6.8" dy="-3.6">2+</tspan><tspan dy="3.6">]/1µM</tspan></text>
</svg>
</body></html>
